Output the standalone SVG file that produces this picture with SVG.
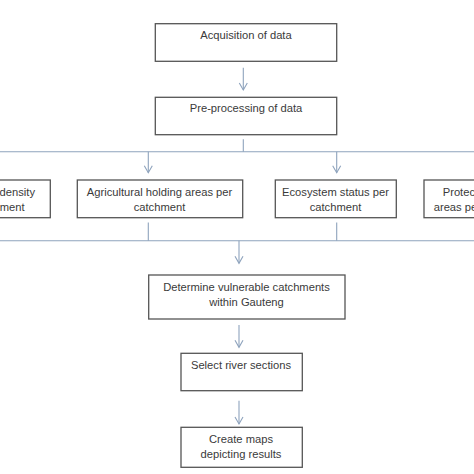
<svg xmlns="http://www.w3.org/2000/svg" width="474" height="474" viewBox="0 0 474 474">
<defs>
<marker id="arr" markerWidth="10" markerHeight="10" refX="8" refY="5" orient="auto" markerUnits="userSpaceOnUse" viewBox="0 0 10 10">
<path d="M1,1 L8,5 L1,9" fill="none" stroke="#8ea3bd" stroke-width="1.1"/>
</marker>
</defs>
<style>
.box{fill:#fff;stroke:#555;stroke-width:1.3}
.t{font-family:"Liberation Sans",Arial,sans-serif;font-size:11.2px;fill:#3a3a3a;text-anchor:middle}
.c{fill:none;stroke:#8ea3bd;stroke-width:1.1}
</style>
<rect width="474" height="474" fill="#fff"/>
<g id="connectors">
<line class="c" x1="243.3" y1="67.7" x2="243.3" y2="90" marker-end="url(#arr)"/>
<line class="c" x1="243.3" y1="139.3" x2="243.3" y2="151.7"/>
<line class="c" x1="0" y1="151.7" x2="474" y2="151.7"/>
<line class="c" x1="148.3" y1="151.7" x2="148.3" y2="172.7" marker-end="url(#arr)"/>
<line class="c" x1="336.7" y1="151.7" x2="336.7" y2="172.7" marker-end="url(#arr)"/>
<line class="c" x1="148.3" y1="222.5" x2="148.3" y2="240.7"/>
<line class="c" x1="336.7" y1="222.5" x2="336.7" y2="240.7"/>
<line class="c" x1="0" y1="240.7" x2="474" y2="240.7"/>
<line class="c" x1="239" y1="240.7" x2="239" y2="263.3" marker-end="url(#arr)"/>
<line class="c" x1="239" y1="325" x2="239" y2="347.3" marker-end="url(#arr)"/>
<line class="c" x1="239" y1="400.7" x2="239" y2="424" marker-end="url(#arr)"/>
</g>
<g id="n1">
<rect class="box" x="155.3" y="23.7" width="181.4" height="37.6"/>
<text class="t" x="246" y="39">Acquisition of data</text>
</g>
<g id="n2">
<rect class="box" x="155.3" y="97.3" width="181.4" height="37.4"/>
<text class="t" x="246" y="112">Pre-processing of data</text>
</g>
<g id="n3">
<rect class="box" x="-71" y="180" width="121.3" height="37.7"/>
<text class="t" x="35" y="195.5" style="text-anchor:end">Population density</text>
<text class="t" x="24.5" y="211" style="text-anchor:end">per catchment</text>
</g>
<g id="n4">
<rect class="box" x="77.3" y="180" width="165.4" height="37.7"/>
<text class="t" x="159.5" y="195.5">Agricultural holding areas per</text>
<text class="t" x="159.5" y="211">catchment</text>
</g>
<g id="n5">
<rect class="box" x="275.3" y="180" width="121" height="37.7"/>
<text class="t" x="335.5" y="195.5">Ecosystem status per</text>
<text class="t" x="335.5" y="211">catchment</text>
</g>
<g id="n6">
<rect class="box" x="424" y="180" width="121" height="37.7"/>
<text class="t" x="442.7" y="195.5" style="text-anchor:start">Protected</text>
<text class="t" x="433.7" y="211" style="text-anchor:start">areas per catchment</text>
</g>
<g id="n7">
<rect class="box" x="148.7" y="275" width="196.3" height="44"/>
<text class="t" x="246.5" y="290.5">Determine vulnerable catchments</text>
<text class="t" x="246.5" y="306">within Gauteng</text>
</g>
<g id="n8">
<rect class="box" x="181" y="353.3" width="121.3" height="37.4"/>
<text class="t" x="241" y="369">Select river sections</text>
</g>
<g id="n9">
<rect class="box" x="181" y="427.3" width="121.3" height="40"/>
<text class="t" x="241" y="443">Create maps</text>
<text class="t" x="241" y="458">depicting results</text>
</g>
</svg>
